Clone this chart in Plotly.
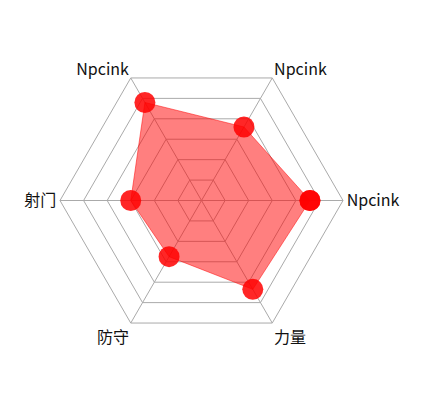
import plotly.graph_objects as go

# axis keys (ids keep the three "Npcink" spokes apart) and their labels
axis_ids = ["a0", "a1", "a2", "a3", "a4", "a5"]
axis_labels = ["Npcink", "Npcink", "Npcink", "射门", "防守", "力量"]
scores = [92, 72, 96, 60, 55, 87]

theta = axis_ids + axis_ids[:1]
r = scores + scores[:1]

fig = go.Figure()
fig.add_trace(
    go.Scatterpolar(
        r=r,
        theta=theta,
        mode="lines+markers",
        fill="toself",
        fillcolor="rgba(255,0,0,0.5)",
        line=dict(color="rgba(255,0,0,0.5)", width=1),
        marker=dict(size=21, color="rgba(255,0,0,0.85)"),
        hoverinfo="skip",
    )
)

grid = "#aaaaaa"
fig.update_layout(
    width=439,
    height=404,
    margin=dict(l=0, r=0, t=0, b=0),
    paper_bgcolor="white",
    showlegend=False,
    font=dict(family="Noto Sans CJK SC, Noto Sans, sans-serif", size=16, color="#111"),
    polar=dict(
        domain=dict(x=[52 / 439, 335 / 439], y=[70 / 404, 353 / 404]),
        bgcolor="white",
        gridshape="linear",
        radialaxis=dict(
            range=[0, 120],
            dtick=20,
            showticklabels=False,
            ticks="",
            showline=False,
            gridcolor=grid,
            gridwidth=1,
        ),
        angularaxis=dict(
            type="category",
            categoryorder="array",
            categoryarray=axis_ids,
            tickmode="array",
            tickvals=axis_ids,
            ticktext=axis_labels,
            direction="counterclockwise",
            rotation=0,
            ticks="",
            showline=True,
            linecolor=grid,
            linewidth=1,
            gridcolor=grid,
            gridwidth=1,
        ),
    ),
)

fig.write_html("out.html")
